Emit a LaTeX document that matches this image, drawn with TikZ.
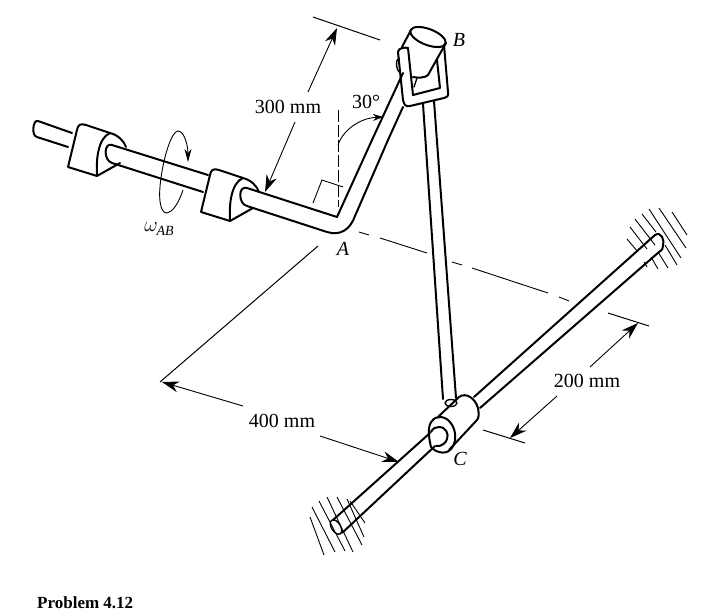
\documentclass[tikz,border=0pt]{standalone}
\usepackage{fontspec}
\setmainfont{Liberation Serif}
\usetikzlibrary{arrows.meta}
\tikzset{
 body/.style={line width=2pt,line join=round,line cap=round},
 thin part/.style={line width=1.4pt,line join=round,line cap=round},
 dim/.style={line width=0.9pt},
 ext/.style={line width=1pt},
 hatch/.style={line width=0.9pt},
 dimarrow/.style={dim,-{Stealth[length=17pt,width=11pt]}},
 lab/.style={font=\fontsize{20}{20}\selectfont,inner sep=0pt},
 ital/.style={font=\fontsize{20}{20}\selectfont\itshape,inner sep=0pt},
}
\newcommand{\bracket}[2]{%
 \begin{scope}[shift={(#1,#2)}]
  \draw[body] (110,133) -- (86,125) .. controls (80,123) and (78,125) .. (77,130) -- (68,167) -- (97,176) -- (120,163);
  \draw[body] (110,133) .. controls (118,135) and (124,141) .. (126,147);
  \draw[body] (97,175) .. controls (96,160) and (98,138) .. (110,133);
 \end{scope}}
\begin{document}
\begin{tikzpicture}[x=1pt,y=-1pt]
\useasboundingbox (0,0) rectangle (710,616);
% left shaft pieces
\draw[body] (72,133) -- (38,121) .. controls (33,119) and (31,136) .. (37,137) -- (68,147);
\bracket{0}{0}
\bracket{133}{45}
\draw[body] (208,175) -- (112,145) .. controls (104,142) and (103,160) .. (112,163) -- (203,192);
% elbow
\draw[body] (337,217) -- (247,188) .. controls (238,185) and (238,204) .. (247,206) -- (327,232)
   .. controls (340,236) and (350,230) .. (355,216) -- (388,140) -- (403,107);
\draw[body] (337,217) -- (372,140) -- (403,73);
% fork and cup
\draw[thin part] (399,58) .. controls (395,60) and (396,70) .. (400,73);
\draw[body] (408,48) -- (413,95) -- (440,88) -- (437,60);
\draw[body] (444,45) -- (448,92)
   .. controls (449,96) and (447,97) .. (444,98) -- (410,106) .. controls (406,107) and (404,105) .. (403,100) -- (398,52)
   .. controls (398,48) and (405,47) .. (408,48);
\draw[body] (411,30) -- (402,47);
\draw[body] (413,77) .. controls (418,78) and (425,78) .. (428,75) -- (446,43);
\draw[thin part] (417,78) -- (414,87);
\draw[body,fill=white,rotate around={-21:(428,37)}] (428,37) ellipse (18.7 and 8);
% rod BC
\draw[body] (423,104) -- (443,399);
\draw[body] (434,101) -- (456,398);
\draw[thin part] (451,403) ellipse (6 and 3.5);
% lower shaft
\draw[body] (430,433) -- (333,520);
\draw[body] (435,446) -- (342,533);
\draw[thin part,rotate around={32:(336,527)}] (336,527) ellipse (4.5 and 8);
% collar
\draw[body] (431,432) .. controls (433,428) and (436,427) .. (439,427) .. controls (446,427) and (449,434) .. (447,439) .. controls (446,443) and (441,447) .. (436,446);
\draw[body] (431,447) .. controls (435,452) and (445,455) .. (450,450) .. controls (457,444) and (457,430) .. (450,422) .. controls (445,416) and (436,415) .. (432,421) .. controls (428,425) and (428,435) .. (431,447);
\draw[body] (438,417) -- (459,397) .. controls (466,392) and (475,398) .. (478,408) .. controls (479,414) and (479,418) .. (477,420) -- (449,450);
% upper shaft
\draw[body] (474,397) -- (655,235) .. controls (661,231) and (665,240) .. (663,246) .. controls (663,249) and (662,250) .. (659,252) -- (480,408);
% hatching top right
\foreach \a/\b/\c/\d in {627/239/638/252, 630/227/647/249, 635/219/655/245, 642/214/656/232, 649/209/681/258, 659/208/686/248, 672/212/687/235, 644/262/647/267, 651/257/658/269, 658/252/668/268, 665/245/677/265}
 \draw[hatch] (\a,\b) -- (\c,\d);
% hatching bottom left
\foreach \a/\b/\c/\d in {310/517/324/555, 312/507/335/552, 319/501/345/551, 327/497/353/552, 337/497/362/545, 347/499/364/537, 350/501/365/523}
 \draw[hatch] (\a,\b) -- (\c,\d);
% dashed centre line
\draw[dim] (359,232) -- (369,235);
\draw[dim] (380,238) -- (427,253);
\draw[dim] (452,262) -- (462,265);
\draw[dim] (472,268) -- (548,293);
\draw[dim] (559,297) -- (569,301);
% angle, right angle
\draw[dim,dash pattern=on 12pt off 3pt] (338,110) -- (338,207);
\draw[dim] (313,203) -- (322,180) -- (343,187);
\coordinate (arcs) at (338,145);
\coordinate (arce) at (383,117);
\draw[dim,-{Stealth[length=10pt,width=7pt]}] (arcs) .. controls (343,130) and (360,118) .. (arce);
% rotation arrow
\coordinate (rots) at (183,190);
\coordinate (rote) at (188,162);
\draw[dim,-{Stealth[length=13pt,width=7pt]}] (rots) .. controls (178,205) and (172,212) .. (167,213)
 .. controls (160,213) and (158,198) .. (161,178) .. controls (164,155) and (172,131) .. (178,131)
 .. controls (184,131) and (188,145) .. (rote);
% dimensions
\draw[ext] (313,17) -- (380,40);
\coordinate (d3a) at (308,92); \coordinate (d3b) at (337,28);
\coordinate (d3c) at (295,122); \coordinate (d3d) at (265,192);
\draw[dimarrow] (d3a) -- (d3b);
\draw[dimarrow] (d3c) -- (d3d);
\node[lab] (t300) at (288,107) {300 mm};
\node[lab] (t30) at (366,102) {30°};
\node[ital] (ta) at (343,249) {A};
\node[ital] (tb) at (459,40) {B};
\node[ital] (tc) at (460,459) {C};
\node[inner sep=0pt] (tw) at (159,229) {\fontsize{20}{20}\selectfont$\omega$\hspace{-1pt}\raisebox{-4pt}{\fontsize{14}{14}\selectfont\itshape AB}};
% 400
\draw[ext] (318,246) -- (160,382);
\coordinate (d4a) at (243,406); \coordinate (d4b) at (162,382);
\coordinate (d4c) at (320,436); \coordinate (d4d) at (399,462);
\draw[dimarrow] (d4a) -- (d4b);
\draw[dimarrow] (d4c) -- (d4d);
\node[lab] (t400) at (282,421) {400 mm};
% 200
\draw[ext] (608,313) -- (649,326);
\draw[ext] (483,430) -- (525,443);
\coordinate (d2a) at (590,367); \coordinate (d2b) at (638,323);
\coordinate (d2c) at (557,396); \coordinate (d2d) at (510,438);
\draw[dimarrow] (d2a) -- (d2b);
\draw[dimarrow] (d2c) -- (d2d);
\node[lab] (t200) at (587,381) {200 mm};
\node[inner sep=0pt,anchor=base west,font=\fontsize{17}{17}\selectfont\bfseries] (prob) at (37,608) {Problem 4.12};
\end{tikzpicture}
\end{document}
